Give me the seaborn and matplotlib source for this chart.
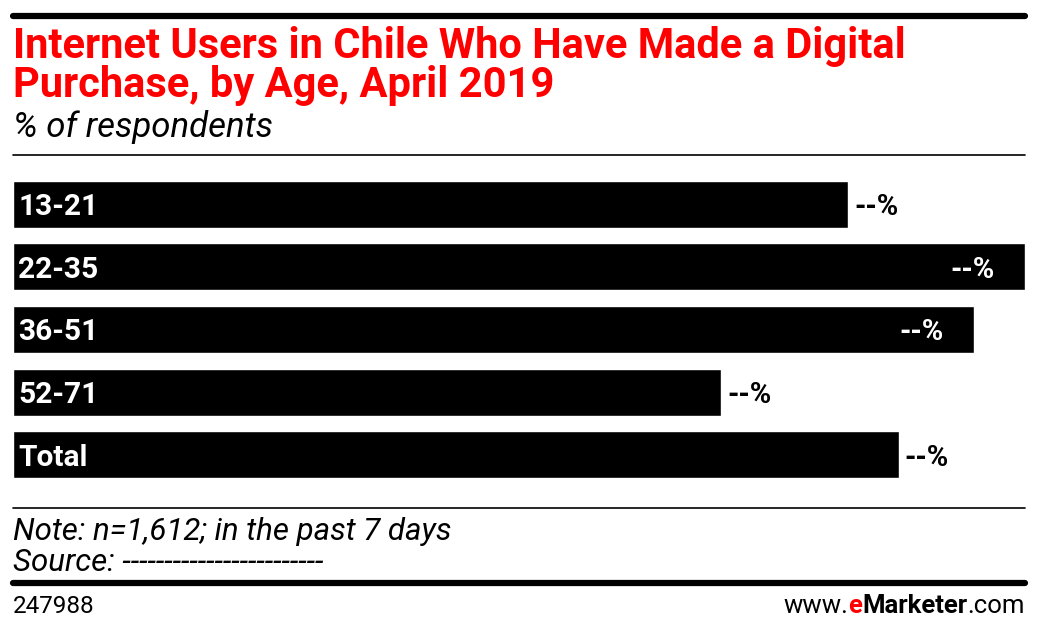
import pandas as pd
import seaborn as sns
import matplotlib.pyplot as plt
from matplotlib.lines import Line2D

# Data (values hidden in the source as "--%", bar lengths)
ages = ['13-21', '22-35', '36-51', '52-71', 'Total']
shares = [66, 80, 76, 56, 70]
value_labels = ['--%', '--%', '--%', '--%', '--%']

df = pd.DataFrame({'age': ages, 'share': shares})

sns.set_style('white')
plt.rcParams['font.family'] = ['Roboto', 'DejaVu Sans']

W, H = 1038, 632
fig = plt.figure(figsize=(W / 100, H / 100), dpi=100)

def px(x, y):
    return x / W, 1 - y / H

# plot area
ax = fig.add_axes([13 / W, 1 - 486 / H, (1025 - 13) / W, (486 - 173) / H])
sns.barplot(data=df, x='share', y='age', color='black', orient='h', width=0.75,
            saturation=1, ax=ax)
ax.set_xlim(0, 80)
ax.set_ylim(4.5, -0.5)
ax.axis('off')

for i, (cat, val, lab) in enumerate(zip(ages, shares, value_labels)):
    ax.text(0.4, i, cat, color='white', fontsize=21.5, fontweight='bold',
            va='center_baseline', ha='left')
    if val >= 75:
        ax.text(val - 2.4, i, lab, color='white', fontsize=21, fontweight='bold',
                va='center_baseline', ha='right')
    else:
        ax.text(val + 0.5, i, lab, color='black', fontsize=21, fontweight='bold',
                va='center_baseline', ha='left')

# header
fig.add_artist(Line2D([13 / W, 1025 / W], [1 - 16 / H] * 2, color='black', lw=4.5))
fig.text(*px(13, 58), 'Internet Users in Chile Who Have Made a Digital',
         color='#ff0000', fontsize=30, fontweight='bold', va='baseline')
fig.text(*px(13, 97), 'Purchase, by Age, April 2019',
         color='#ff0000', fontsize=30, fontweight='bold', va='baseline')
fig.text(*px(13, 137), '% of respondents', color='black', fontsize=25,
         fontstyle='italic', va='baseline')
fig.add_artist(Line2D([13 / W, 1025 / W], [1 - 155 / H] * 2, color='black', lw=1.2))

# footer
fig.add_artist(Line2D([13 / W, 1025 / W], [1 - 508 / H] * 2, color='black', lw=1.2))
fig.text(*px(13, 540), 'Note: n=1,612; in the past 7 days', color='black',
         fontsize=22.5, fontstyle='italic', va='baseline')
fig.text(*px(13, 571), 'Source: ' + '-' * 24, color='black',
         fontsize=22.5, fontstyle='italic', va='baseline')
fig.add_artist(Line2D([13 / W, 1025 / W], [1 - 583 / H] * 2, color='black', lw=4.5))
fig.text(*px(13, 613), '247988', color='black', fontsize=17.5, va='baseline')

# www.eMarketer.com, laid out right to left
renderer = fig.canvas.get_renderer()
right = 1025 / W
parts = [('.com', 'black', 'normal'), ('Marketer', 'black', 'bold'),
         ('e', '#ff0000', 'bold'), ('www.', 'black', 'normal')]
for text, colour, weight in parts:
    t = fig.text(right, 1 - 613 / H, text, color=colour, fontsize=18.5,
                 fontweight=weight, va='baseline', ha='right')
    bb = t.get_window_extent(renderer)
    right -= bb.width / W

fig.savefig('out.png', dpi=100)
